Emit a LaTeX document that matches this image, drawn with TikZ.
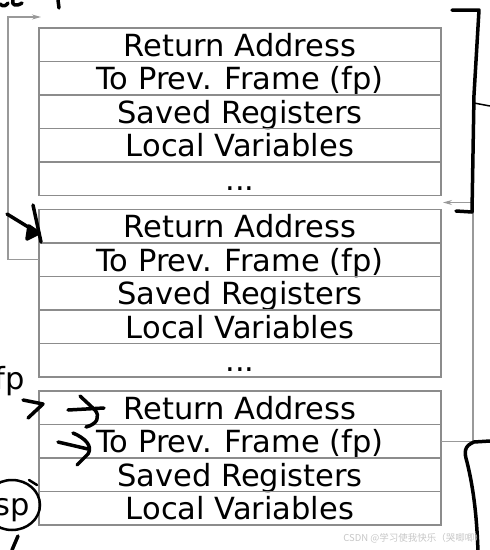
\documentclass[tikz,border=0pt]{standalone}
\usepackage{fontspec}
\setmainfont{DejaVu Sans}
\newfontfamily\cjkfont{Noto Sans CJK SC}
\usetikzlibrary{positioning,arrows.meta}
\newcommand{\slotfont}{\fontsize{30.5}{33}\selectfont}
\tikzset{
  slot/.style={draw=gray!90, line width=1.2pt, minimum width=402pt, minimum height=33.5pt,
    inner sep=0pt, outer sep=0pt, text height=24pt, text depth=1pt, font=\slotfont},
  link/.style={draw=gray!80, line width=1.1pt, -{Stealth[length=9pt,width=5pt]}},
  ink/.style={black, line width=3.5pt, line cap=round, line join=round}
}
\begin{document}
\begin{tikzpicture}[x=1pt,y=-1pt]
\useasboundingbox (0,0) rectangle (490,550);
% first frame
\node[slot] (fa1) at (240,44.75) {Return Address};
\node[slot,below=0pt of fa1] (fa2) {To Prev. Frame (fp)};
\node[slot,below=0pt of fa2] (fa3) {Saved Registers};
\node[slot,below=0pt of fa3] (fa4) {Local Variables};
\node[slot,below=0pt of fa4] (fa5) {...};
% second frame
\node[slot,below=14pt of fa5] (fb1) {Return Address};
\node[slot,below=0pt of fb1] (fb2) {To Prev. Frame (fp)};
\node[slot,below=0pt of fb2] (fb3) {Saved Registers};
\node[slot,below=0pt of fb3] (fb4) {Local Variables};
\node[slot,below=0pt of fb4] (fb5) {...};
% current frame
\node[slot,below=14pt of fb5] (fc1) {Return Address};
\node[slot,below=0pt of fc1] (fc2) {To Prev. Frame (fp)};
\node[slot,below=0pt of fc2] (fc3) {Saved Registers};
\node[slot,below=0pt of fc3] (fc4) {Local Variables};
% frame pointer links
\coordinate (topa) at (41,17);
\coordinate (gapab) at (443,202.5);
\draw[link] (fb2.west) -- ++(-31,0) |- (topa);
\draw[link] (fc2.east) -- ++(32,0) |- (gapab);
% handwritten notes
\node[font=\slotfont, anchor=base, inner sep=0pt] (fp) at (10,389) {fp};
\node[font=\slotfont, anchor=base, inner sep=0pt] (sp) at (12,515) {sp};
\draw[black, line width=2.5pt] (12,505) ellipse [x radius=28, y radius=25];
\draw[black, line width=2.5pt, line cap=round] (29,480) -- (37,485);
\draw[ink] (12,550) -- (18,536);
\draw[ink] (0,4) .. controls (3,7) and (6,6) .. (8,3);
\draw[ink] (13,0) .. controls (11,5) and (16,7) .. (22,3);
\draw[ink] (58,0) -- (59,8);
\draw[ink] (452,10) -- (479,10) -- (474,95) -- (472,212) -- (456,211);
\draw[black, line width=1.5pt] (474,103) -- (490,106);
\draw[ink] (490,441) -- (474,442) .. controls (464,446) and (464,452) .. (467,462)
  .. controls (474,490) and (477,520) .. (478,552);
\draw[ink] (33,205) -- (41,242);
\draw[ink] (7,214) -- (38,233);
\draw[ink, fill=black] (29,226) -- (39,233) -- (27,239) -- cycle;
\draw[ink] (23,400) -- (43,404) -- (28,418);
\draw[ink] (68,410) -- (104,408);
\draw[ink] (80,396) -- (95,410) .. controls (100,416) and (98,424) .. (86,427);
\draw[ink] (58,442) -- (88,449);
\draw[ink] (73,433) .. controls (85,438) and (93,446) .. (88,454) -- (77,465);
% watermark
\node[anchor=east, inner sep=0pt, text=gray!45, font=\cjkfont\fontsize{9.5}{10}\selectfont] (mark) at (484,538) {CSDN @学习使我快乐（哭唧唧）};
\end{tikzpicture}
\end{document}
